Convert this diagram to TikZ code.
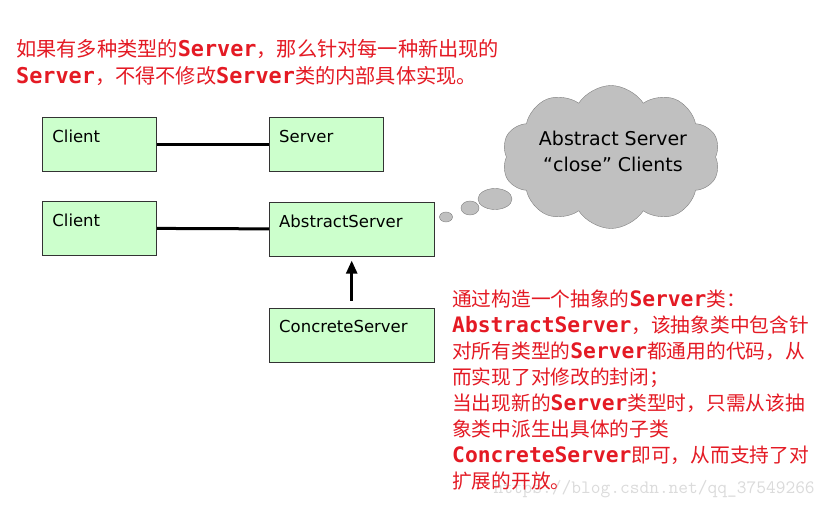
\documentclass[tikz,border=0pt]{standalone}
\usepackage{fontspec}
\setmainfont{DejaVu Sans}
\newfontfamily\cjk{Noto Sans CJK SC}
\newfontfamily\codefont{DejaVu Sans Mono}[Scale=1.08]
\usepackage{tikz}
\usetikzlibrary{positioning}
\usetikzlibrary{shapes.symbols}
\usetikzlibrary{shapes.geometric}
\usetikzlibrary{arrows.meta}
\definecolor{boxgreen}{RGB}{204,255,204}
\definecolor{notered}{RGB}{228,26,36}
\definecolor{cloudgray}{RGB}{192,192,192}
\newcommand{\code}[1]{{\codefont\bfseries #1}}
\tikzset{
  classbox/.style={draw=black!80, fill=boxgreen, line width=0.8pt, anchor=north west,
    align=left, inner xsep=10pt, inner ysep=12pt, text height=13pt, text depth=17pt,
    text width=94pt, font=\fontsize{16.5}{20}\selectfont},
  widebox/.style={text width=145pt},
  link/.style={line width=3pt},
  note/.style={text=notered, anchor=base west, align=left, inner sep=0pt},
  bubble/.style={ellipse, draw=gray, fill=cloudgray, inner sep=0pt}
}

\begin{document}
\begin{tikzpicture}[x=1pt, y=-1pt]
      \useasboundingbox[fill=white] (0,0) rectangle (830,510);
      % classes
      \node[classbox] (client1) at (42,117) {Client};
      \node[classbox, right=112pt of client1] (server) {Server};
      \node[classbox, below=29pt of client1] (client2) {Client};
      \node[classbox, widebox, below=30pt of server.south west, anchor=north west] (abstract) {AbstractServer};
      \node[classbox, widebox, below=51pt of abstract] (concrete) {ConcreteServer};
      \draw[link] (client1) -- (server);
      \draw[link] (client2) -- (abstract);
      \draw[-{Triangle[length=13pt,width=11pt]}, line width=2.5pt, shorten <=7pt, shorten >=4pt] (concrete) -- (abstract);
      % thought cloud
      \node[cloud, cloud puffs=10, cloud puff arc=115, draw=gray, fill=cloudgray,
        minimum width=218pt, minimum height=143pt] (thought) at (611,157) {};
      \node[align=center, font=\fontsize{19}{26}\selectfont] (thoughttext) at (thought.center) [xshift=2pt, yshift=6pt] {Abstract Server\\“close” Clients};
      \node[bubble, minimum width=13pt, minimum height=10pt] (bubble1) at (446,217) {};
      \node[bubble, minimum width=18pt, minimum height=14pt] (bubble2) at (470,208) {};
      \node[bubble, minimum width=34pt, minimum height=21pt] (bubble3) at (495,199) {};
      % notes (base = last line)
      \node[anchor=base west, text=black!14, font=\fontsize{18.9}{20}\ttfamily] (mark) at (490,493) {https://blog.csdn.net/qq\_37549266};
      \node[note, font=\cjk\fontsize{20.2}{26.5}\selectfont] (problem) at (16,83.5)
        {如果有多种类型的\code{Server}，那么针对每一种新出现的\\
         \code{Server}，不得不修改\code{Server}类的内部具体实现。};
      \node[note, font=\cjk\fontsize{19.7}{26}\selectfont] (solution) at (452,488)
        {通过构造一个抽象的\code{Server}类：\\
         \code{AbstractServer}，该抽象类中包含针\\
         对所有类型的\code{Server}都通用的代码，从\\
         而实现了对修改的封闭；\\
         当出现新的\code{Server}类型时，只需从该抽\\
         象类中派生出具体的子类\\
         \code{ConcreteServer}即可，从而支持了对\\
         扩展的开放。};
    \end{tikzpicture}
\end{document}
